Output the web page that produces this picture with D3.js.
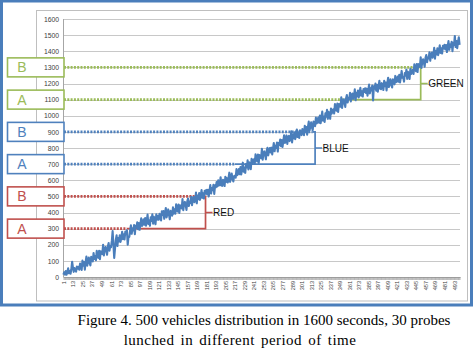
<!DOCTYPE html>
<html><head><meta charset="utf-8">
<script src="https://cdn.jsdelivr.net/npm/d3@7"></script>
<style>body{margin:0;background:#fff}svg{display:block}</style>
</head><body>
<svg id="c" width="474" height="349"></svg>
<script>
// ---- data ----
const vehicles = [
15,29,15,37,14,31,54,23,36,20,48,95,60,32,55,49,33,65,51,63,
45,83,71,44,102,70,93,46,94,127,70,93,121,89,72,125,113,96,149,112,
130,104,162,131,119,163,111,160,153,142,200,134,172,186,164,138,191,210,163,192,
185,224,285,200,118,175,230,258,192,241,220,259,218,247,281,235,264,233,282,266,
290,200,250,249,287,320,268,301,289,322,265,318,306,339,297,335,293,331,364,317,
330,357,324,366,318,350,387,329,351,318,370,347,389,331,373,360,327,389,356,378,
355,392,379,351,408,385,409,361,396,428,370,392,419,386,358,410,397,380,432,393,
420,393,451,418,406,449,397,444,437,425,483,415,453,466,444,416,469,487,440,467,
460,498,446,483,496,464,482,524,457,505,483,520,478,506,539,491,519,487,535,517,
540,513,541,499,532,570,518,551,539,572,515,568,556,589,562,600,568,571,619,567,
565,603,591,564,622,590,613,586,614,647,590,613,641,609,592,625,628,616,669,632,
640,669,638,682,636,670,709,653,677,646,700,679,723,667,711,700,669,733,702,726,
730,703,761,729,717,760,708,756,749,737,795,728,766,779,757,730,783,801,754,782,
800,773,802,760,798,831,780,813,801,834,778,831,819,852,811,849,807,845,879,832,
840,878,825,863,875,843,860,903,835,883,860,898,855,883,915,868,895,863,910,893,
880,918,907,880,938,906,930,883,931,964,908,931,959,927,911,964,952,935,989,952,
960,989,957,1001,954,988,1026,970,993,962,1015,994,1037,981,1024,1013,981,1045,1013,1037,
1040,1014,1073,1042,1031,1075,1024,1073,1067,1056,1115,1049,1088,1102,1081,1055,1109,1128,1082,1111,
1105,1142,1089,1126,1138,1105,1122,1164,1096,1143,1120,1157,1114,1141,1173,1125,1152,1119,1166,1148,
1170,1142,1168,1125,1161,1193,1139,1170,1157,1188,1095,1182,1168,1199,1156,1192,1149,1185,1217,1168,
1165,1202,1189,1160,1217,1184,1206,1157,1204,1236,1178,1199,1226,1193,1175,1226,1213,1195,1247,1208,
1215,1243,1211,1254,1207,1240,1278,1236,1239,1212,1265,1248,1286,1229,1272,1260,1228,1291,1259,1282,
1285,1259,1319,1288,1277,1321,1271,1320,1314,1303,1363,1297,1336,1350,1330,1304,1358,1377,1332,1361,
1355,1393,1341,1379,1392,1360,1378,1421,1354,1402,1380,1418,1376,1404,1437,1390,1418,1386,1434,1417,
1440,1412,1438,1395,1431,1463,1409,1441,1427,1459,1400,1452,1438,1495,1426,1463,1419,1456,1487,1439
];
const categories = d3.range(1, vehicles.length + 1);
const xTickLabels = d3.range(1, 501, 12);
const yTicks = d3.range(0, 1601, 100);
const groupNames = ["RED", "BLUE", "GREEN"];
const levelA = [300, 700, 1100];
const levelB = [500, 900, 1300];
const dottedEndA = [81, 217, 361];
const dottedEndB = [176, 315, 447];
const bracketAt = [180, 318, 451];
const boxLetters = ["A", "B"];
const caption = ["Figure 4. 500 vehicles distribution in 1600 seconds, 30 probes",
                 "lunched in different period of time"];

// ---- drawing ----
const colors = ["#C0504D", "#4F81BD", "#9BBB59"];
const svg = d3.select("#c");
const x = d3.scalePoint().domain(categories).range([63, 460]).padding(0.5);
const y = d3.scaleLinear().domain([0, 1600]).range([277, 19]);

// outer frame
svg.append("rect").attr("x", 1.5).attr("y", 1).attr("width", 470).attr("height", 304)
  .attr("fill", "#fff").attr("stroke", "#4A7EBB").attr("stroke-width", 3);
// chart area
svg.append("rect").attr("x", 36.5).attr("y", 10.5).attr("width", 431).attr("height", 290.5)
  .attr("fill", "#fff").attr("stroke", "#BFBFBF").attr("stroke-width", 1);

// gridlines
svg.append("g").selectAll("line").data(yTicks.filter(d => d > 0)).join("line")
  .attr("x1", 63).attr("x2", 460).attr("y1", d => Math.round(y(d)) + 0.5).attr("y2", d => Math.round(y(d)) + 0.5)
  .attr("stroke", "#C8C8C8").attr("stroke-width", 1);

// y axis line
svg.append("line").attr("x1", 63.5).attr("x2", 63.5).attr("y1", y(1600)).attr("y2", y(0))
  .attr("stroke", "#A6A6A6");

// x axis via d3.axisBottom, ticks at every category
const xAxis = d3.axisBottom(x).tickSize(3).tickSizeOuter(0)
  .tickFormat(d => xTickLabels.includes(d) ? d : "");
const gx = svg.append("g").attr("transform", `translate(0,${y(0)})`).call(xAxis);
gx.select(".domain").attr("stroke", "#A6A6A6");
gx.selectAll(".tick line").attr("stroke", "#999").attr("stroke-width", 0.6);
gx.selectAll(".tick text")
  .attr("transform", "rotate(-90)").attr("text-anchor", "end")
  .attr("x", -4).attr("y", 0).attr("dy", "0.35em")
  .attr("font-family", "Liberation Sans, Arial, sans-serif").attr("font-size", 5.6)
  .attr("fill", "#404040");

// label boxes (behind y tick labels)
const boxG = svg.append("g");
groupNames.forEach((g, i) => {
  [levelA[i], levelB[i]].forEach((lv, j) => {
    const cy = y(lv);
    boxG.append("rect").attr("x", 7.5).attr("y", cy - 9.5).attr("width", 56.5).attr("height", 19)
      .attr("fill", "#fff").attr("stroke", colors[i]).attr("stroke-width", 1.6);
    boxG.append("text").attr("x", 22).attr("y", cy).attr("dy", "0.36em")
      .attr("text-anchor", "middle").attr("font-family", "Liberation Sans, Arial, sans-serif")
      .attr("font-size", 14).attr("fill", colors[i]).text(boxLetters[j]);
  });
});

// y axis labels
const yAxis = d3.axisLeft(y).tickValues(yTicks).tickFormat(d3.format("d")).tickSize(0).tickPadding(4);
const gy = svg.append("g").attr("transform", "translate(63,0)").call(yAxis);
gy.select(".domain").remove();
gy.selectAll(".tick text").attr("font-family", "Liberation Sans, Arial, sans-serif")
  .attr("font-size", 6.8).attr("fill", "#404040");

// dotted probe lines and brackets
groupNames.forEach((g, i) => {
  const col = colors[i];
  const yA = y(levelA[i]), yB = y(levelB[i]);
  const xv = x(bracketAt[i]);
  [[yA, dottedEndA[i]], [yB, dottedEndB[i]]].forEach(([yy, e]) => {
    svg.append("line").attr("x1", 64).attr("x2", x(e)).attr("y1", yy).attr("y2", yy)
      .attr("stroke", col).attr("stroke-width", 2.6).attr("stroke-dasharray", "2,1.3");
  });
  svg.append("path")
    .attr("d", `M${x(dottedEndA[i])},${yA}H${xv}V${yB}H${x(dottedEndB[i])}M${xv},${(yA + yB) / 2}h7`)
    .attr("fill", "none").attr("stroke", col).attr("stroke-width", 1.7);
  svg.append("text").attr("x", xv + 7.5).attr("y", (yA + yB) / 2).attr("dy", "0.36em")
    .attr("font-family", "Liberation Sans, Arial, sans-serif").attr("font-size", 10)
    .attr("fill", "#111").text(g);
});

// data line
const line = d3.line().x((d, i) => x(categories[i])).y(d => y(d));
svg.append("path").datum(vehicles).attr("d", line).attr("fill", "none")
  .attr("stroke", "#4A7EBB").attr("stroke-width", 2.1).attr("stroke-linejoin", "round");

// caption
svg.append("text").attr("x", 264).attr("y", 325).attr("text-anchor", "middle")
  .attr("font-family", "Liberation Serif, Times New Roman, serif").attr("font-size", 15)
  .attr("fill", "#000").text(caption[0]);
svg.append("text").attr("x", 240).attr("y", 345).attr("text-anchor", "middle")
  .attr("font-family", "Liberation Serif, Times New Roman, serif").attr("font-size", 15)
  .attr("letter-spacing", 0.45).attr("word-spacing", 2).attr("fill", "#000").text(caption[1]);
</script>
</body></html>
